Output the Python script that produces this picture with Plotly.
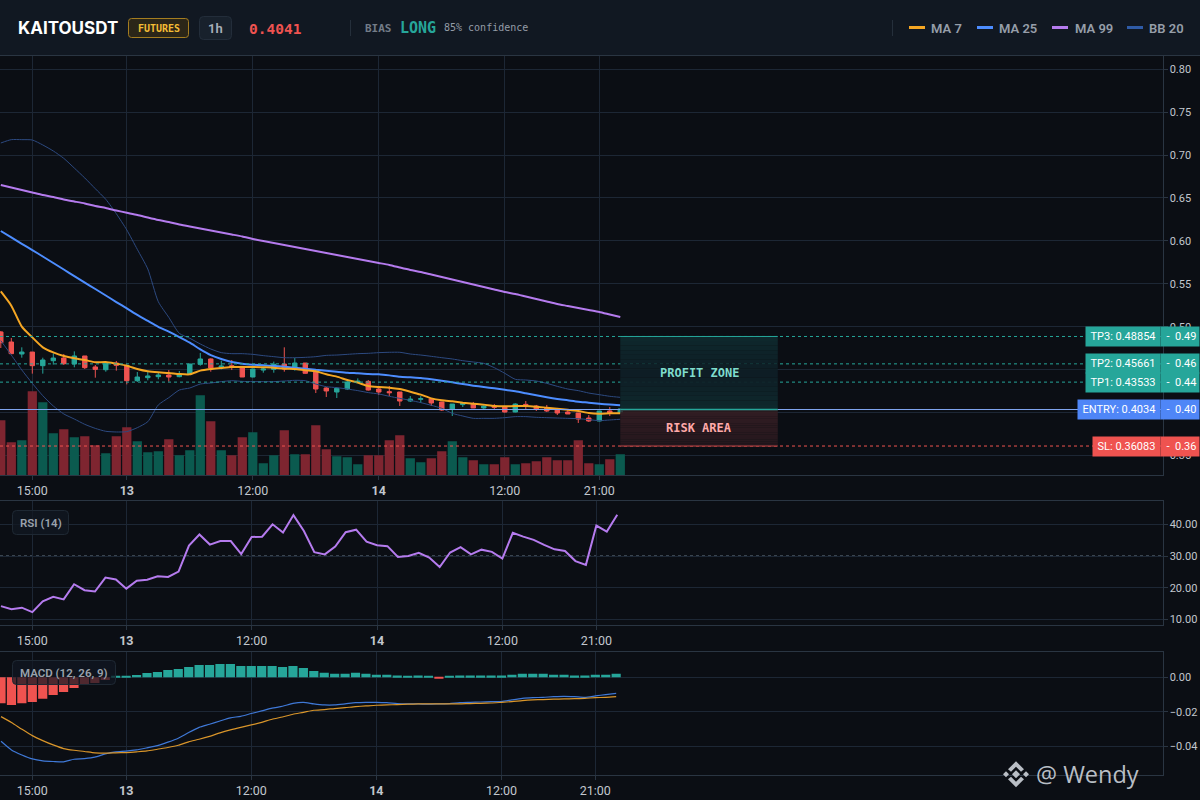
import plotly.graph_objects as go

# ---- data ----
bar_index = list(range(-3, 57))
tick_index = [0, 9, 21, 33, 45, 54]
tick_text = ["15:00", "<b>13</b>", "12:00", "<b>14</b>", "12:00", "21:00"]

opens = [.4938,.4821,.4681,.4704,.4545,.4603,.4634,.4564,.4658,.4530,.4498,.4576,.4545,.4370,.4405,.4417,.4436,.4417,.4448,.4561,
         .4623,.4526,.4545,.4537,.4413,.4494,.4502,.4564,.4502,.4576,.4471,.4285,.4238,.4273,.4347,.4362,.4273,.4242,.4238,.4133,
         .4153,.4156,.4122,.4036,.4091,.4098,.4052,.4075,.4063,.4005,.4094,.4075,.4052,.4040,.4005,.3993,.3935,.3900,.4017,.3993]
highs = [.4949,.4868,.4759,.4704,.4638,.4689,.4681,.4712,.4658,.4553,.4580,.4600,.4561,.4471,.4471,.4463,.4494,.4483,.4568,.4693,
         .4631,.4603,.4611,.4537,.4510,.4530,.4592,.4759,.4634,.4576,.4498,.4296,.4296,.4378,.4397,.4378,.4285,.4308,.4238,.4191,
         .4191,.4156,.4122,.4098,.4122,.4122,.4098,.4098,.4075,.4106,.4133,.4087,.4087,.4052,.4028,.3993,.3970,.4017,.4063,.4048]
lows = [.4751,.4685,.4638,.4452,.4452,.4557,.4553,.4526,.4506,.4405,.4475,.4487,.4327,.4355,.4374,.4386,.4359,.4409,.4448,.4545,
        .4475,.4502,.4494,.4413,.4409,.4463,.4463,.4475,.4487,.4452,.4226,.4180,.4168,.4261,.4343,.4254,.4203,.4191,.4075,.4122,
        .4110,.4075,.4017,.3958,.4063,.4052,.4040,.4028,.3997,.4001,.4036,.4017,.4005,.3970,.3982,.3877,.3888,.3896,.3958,.3993]
closes = [.4813,.4685,.4704,.4545,.4611,.4634,.4568,.4658,.4522,.4502,.4572,.4549,.4370,.4413,.4425,.4436,.4413,.4444,.4564,.4623,
          .4518,.4541,.4530,.4413,.4506,.4506,.4561,.4506,.4576,.4456,.4273,.4250,.4281,.4355,.4366,.4261,.4238,.4230,.4133,.4156,
          .4160,.4110,.4028,.4098,.4110,.4052,.4075,.4059,.4005,.4098,.4079,.4040,.4017,.3993,.3982,.3923,.3900,.4017,.3989,.4041]
volumes = [55,33,35,84,73,42,46,38,39,30,22,39,48,34,23,24,36,20,25,80,54,25,20,38,43,12,20,45,21,21,
           50,26,19,18,11,20,20,35,40,17,13,17,24,34,18,15,11,11,18,11,12,14,18,15,15,35,12,11,16,21]

ma7 = [.5410,.5244,.5000,.4875,.4759,.4700,.4658,.4631,.4611,.4584,.4588,.4568,.4545,.4506,.4479,.4467,.4460,.4448,.4444,.4487,
       .4506,.4518,.4530,.4530,.4530,.4526,.4522,.4510,.4506,.4491,.4479,.4444,.4417,.4378,.4347,.4308,.4296,.4289,.4273,.4242,
       .4207,.4164,.4141,.4129,.4114,.4102,.4091,.4075,.4071,.4075,.4075,.4067,.4055,.4044,.4032,.4017,.3993,.3985,.3989,.3989]
ma25 = [.6115,.6040,.5965,.5893,.5818,.5742,.5666,.5590,.5514,.5439,.5363,.5287,.5213,.5136,.5066,.4998,.4941,.4879,.4813,.4736,
        .4669,.4623,.4588,.4568,.4557,.4549,.4541,.4533,.4522,.4510,.4497,.4487,.4475,.4463,.4456,.4448,.4444,.4432,.4417,.4409,
        .4401,.4386,.4370,.4351,.4331,.4312,.4296,.4281,.4265,.4246,.4223,.4199,.4176,.4156,.4141,.4125,.4114,.4102,.4091,.4083]
ma99 = [.6651,.6622,.6593,.6564,.6535,.6511,.6482,.6459,.6436,.6406,.6383,.6354,.6328,.6302,.6272,.6243,.6220,.6191,.6167,.6144,
        .6121,.6097,.6074,.6051,.6022,.5998,.5975,.5952,.5928,.5905,.5882,.5859,.5835,.5812,.5789,.5765,.5742,.5719,.5689,.5660,
        .5637,.5608,.5579,.5550,.5521,.5491,.5462,.5433,.5404,.5381,.5351,.5322,.5293,.5264,.5241,.5217,.5194,.5171,.5141,.5112]
bb_upper = [.7141,.7180,.7180,.7176,.7118,.7048,.6962,.6849,.6733,.6608,.6484,.6317,.6127,.5901,.5672,.5291,.5108,.4922,.4864,.4798,
            .4739,.4697,.4685,.4685,.4677,.4662,.4650,.4638,.4638,.4642,.4650,.4665,.4669,.4677,.4685,.4689,.4697,.4701,.4701,.4681,
            .4669,.4654,.4638,.4623,.4603,.4588,.4572,.4522,.4456,.4386,.4378,.4366,.4339,.4304,.4273,.4254,.4226,.4207,.4188,.4176]
bb_lower = [.4837,.4669,.4495,.4339,.4195,.4075,.3982,.3923,.3861,.3814,.3780,.3772,.3776,.3822,.3892,.4087,.4172,.4261,.4285,.4331,
            .4343,.4359,.4370,.4362,.4359,.4359,.4359,.4366,.4374,.4370,.4331,.4300,.4289,.4273,.4254,.4231,.4215,.4188,.4164,.4141,
            .4114,.4083,.4048,.3989,.3958,.3931,.3931,.3931,.3939,.3951,.3951,.3943,.3939,.3935,.3931,.3927,.3916,.3904,.3912,.3920]

rsi = [14.2,13.2,13.7,12.3,15.7,17.1,16.3,21.1,19.2,18.8,23.2,22.6,19.7,22.2,22.5,23.6,23.4,25.1,33.3,36.8,
       33.6,34.7,34.7,30.6,36.0,36.1,40.0,37.4,42.9,37.9,31.2,30.5,33.0,37.5,38.3,34.5,33.4,33.1,29.7,30.0,
       31.0,29.5,26.5,31.1,32.8,30.5,32.0,31.3,29.2,37.3,36.1,35.1,33.5,32.1,31.6,28.4,27.2,39.6,37.7,43.0]
macd_hist = [-.0151,-.0160,-.0151,-.0143,-.0125,-.0102,-.0085,-.0062,-.0042,-.0033,-.0015,.0008,.0006,.0014,.0025,.0031,.0042,.0048,.0060,.0071,
             .0071,.0077,.0077,.0066,.0066,.0066,.0066,.0060,.0066,.0054,.0037,.0027,.0021,.0021,.0027,.0021,.0015,.0015,.0010,.0004,
             .0010,.0004,-.0003,.0004,.0010,.0010,.0010,.0010,.0010,.0015,.0021,.0021,.0021,.0015,.0015,.0010,.0010,.0015,.0015,.0021]
macd_line = [-.0371,-.0421,-.0450,-.0473,-.0484,-.0488,-.0490,-.0475,-.0471,-.0463,-.0444,-.0432,-.0428,-.0421,-.0409,-.0396,-.0376,-.0353,-.0320,-.0290,
             -.0272,-.0253,-.0235,-.0226,-.0210,-.0195,-.0179,-.0168,-.0151,-.0145,-.0154,-.0160,-.0160,-.0154,-.0147,-.0145,-.0145,-.0147,-.0152,-.0154,
             -.0154,-.0156,-.0154,-.0152,-.0147,-.0145,-.0143,-.0141,-.0141,-.0131,-.0122,-.0118,-.0116,-.0112,-.0110,-.0112,-.0116,-.0108,-.0100,-.0093]
macd_signal = [-.0228,-.0262,-.0301,-.0338,-.0367,-.0392,-.0413,-.0423,-.0430,-.0438,-.0440,-.0438,-.0436,-.0432,-.0427,-.0417,-.0407,-.0394,-.0374,-.0359,
               -.0342,-.0322,-.0305,-.0290,-.0276,-.0261,-.0243,-.0230,-.0214,-.0203,-.0191,-.0187,-.0181,-.0176,-.0170,-.0166,-.0162,-.0160,-.0158,-.0156,
               -.0154,-.0154,-.0154,-.0154,-.0154,-.0152,-.0151,-.0149,-.0145,-.0141,-.0135,-.0131,-.0129,-.0127,-.0125,-.0124,-.0122,-.0118,-.0116,-.0112]

price_ticks = [0.35, 0.40, 0.45, 0.50, 0.55, 0.60, 0.65, 0.70, 0.75, 0.80]
rsi_ticks = [10, 20, 30, 40]
macd_ticks = [-0.04, -0.02, 0.0]
tp3, tp2, tp1, entry, sl = 0.48854, 0.45661, 0.43533, 0.4034, 0.36083
zone_start, zone_end = 56, 71

for series in (opens, highs, lows, closes, volumes, ma7, ma25, ma99, bb_upper, bb_lower, rsi, macd_hist, macd_line, macd_signal):
    assert len(series) == len(bar_index), len(series)

# ---- styles ----
W, H = 1200, 800
BG, HEAD, GRID, AXIS = "#0b0e14", "#111822", "#1d2735", "#2a3542"
RED, TEAL, BLUE = "#ef5350", "#26a69a", "#4d8dff"
ORANGE, PURPLE, BBC = "#f5a623", "#b57bee", "#2d4a80"
VRED, VGREEN = "#7e2530", "#0b5a4f"
SANS, MONO = "Roboto", "DejaVu Sans Mono"
TICK = "#c2c7ce"


def px(x):
    return x / W


def py(y):
    return 1 - y / H


fig = go.Figure()
fig.add_bar(x=bar_index, y=volumes, yaxis="y", xaxis="x", width=0.88,
            marker=dict(color=[VGREEN if c >= o else VRED for o, c in zip(opens, closes)], line_width=0))
for vals, col, wid in [(bb_upper, BBC, 1), (bb_lower, BBC, 1), (ma99, PURPLE, 2), (ma25, BLUE, 2)]:
    fig.add_scatter(x=bar_index, y=vals, mode="lines", line=dict(color=col, width=wid, shape="spline", smoothing=0.6), yaxis="y2", xaxis="x")
fig.add_candlestick(x=bar_index, open=opens, high=highs, low=lows, close=closes, yaxis="y2", xaxis="x",
                    increasing=dict(line=dict(color=TEAL, width=1), fillcolor=TEAL),
                    decreasing=dict(line=dict(color=RED, width=1), fillcolor=RED),
                    whiskerwidth=0)
fig.add_scatter(x=bar_index, y=ma7, mode="lines", line=dict(color=ORANGE, width=2, shape="spline", smoothing=0.6), yaxis="y2", xaxis="x")

fig.add_scatter(x=bar_index, y=rsi, mode="lines", line=dict(color=PURPLE, width=2), yaxis="y3", xaxis="x2")

fig.add_bar(x=bar_index, y=macd_hist, yaxis="y4", xaxis="x3", width=0.88,
            marker=dict(color=[TEAL if v >= 0 else RED for v in macd_hist], line_width=0))
fig.add_scatter(x=bar_index, y=macd_line, mode="lines", line=dict(color="#3f78d6", width=1.2, shape="spline", smoothing=0.6), yaxis="y4", xaxis="x3")
fig.add_scatter(x=bar_index, y=macd_signal, mode="lines", line=dict(color="#d9952a", width=1.2, shape="spline", smoothing=0.6), yaxis="y4", xaxis="x3")

shapes, notes = [], []


def rect(x0, y0, x1, y1, fill, line=None, lw=1):
    shapes.append(dict(type="rect", xref="paper", yref="paper", x0=px(x0), x1=px(x1), y0=py(y0), y1=py(y1),
                       fillcolor=fill, line=dict(color=line or fill, width=lw if line else 0), layer="above"))


def rrect(x0, y0, x1, y1, r, fill, line):
    X0, X1, Y0, Y1 = px(x0), px(x1), py(y0), py(y1)
    rx, ry = r / W, r / H
    p = (f"M{X0+rx},{Y0} L{X1-rx},{Y0} Q{X1},{Y0} {X1},{Y0-ry} L{X1},{Y1+ry} Q{X1},{Y1} {X1-rx},{Y1} "
         f"L{X0+rx},{Y1} Q{X0},{Y1} {X0},{Y1+ry} L{X0},{Y0-ry} Q{X0},{Y0} {X0+rx},{Y0} Z")
    shapes.append(dict(type="path", xref="paper", yref="paper", path=p, fillcolor=fill,
                       line=dict(color=line, width=1), layer="above"))


def hline(y0, col, x1=W, lw=1):
    shapes.append(dict(type="line", xref="paper", yref="paper", x0=px(0), x1=px(x1), y0=py(y0), y1=py(y0),
                       line=dict(color=col, width=lw), layer="above"))


def note(x, y, text, size, color, family=SANS, weight=400, anchor="left"):
    notes.append(dict(xref="paper", yref="paper", x=px(x), y=py(y), text=text, showarrow=False, xanchor=anchor,
                      yanchor="middle", align=anchor, font=dict(size=size, color=color, family=family, weight=weight)))


# header band
rect(0, 0, W, 55, HEAD)
hline(55.5, AXIS)
note(16, 28, "<b>KAITOUSDT</b>", 17, "#ffffff", "Inter", 800)
rrect(128.5, 18.5, 188.5, 37.5, 3, "#2b2618", "#a47d20")
note(158.5, 28.5, "FUTURES", 10, "#f4bd35", MONO, 700, "center")
rrect(199.5, 16.5, 231.5, 39.5, 4, "#18212c", "#232d3a")
note(215.5, 28.5, "1h", 13, "#a9b0ba", SANS, 600, "center")
note(247, 28.5, "0.4041", 14.5, RED, MONO, 700)
shapes.append(dict(type="line", xref="paper", yref="paper", x0=px(350.5), x1=px(350.5), y0=py(20), y1=py(36),
                   line=dict(color="#252f3b", width=1), layer="above"))
note(363, 28.5, "BIAS", 11, "#737c88", MONO, 700)
note(398, 28, "<b>LONG</b>", 15, TEAL, MONO, 700)
note(442, 27.5, "85% confidence", 10, "#949ca7", MONO)
shapes.append(dict(type="line", xref="paper", yref="paper", x0=px(892.5), x1=px(892.5), y0=py(20), y1=py(36),
                   line=dict(color="#252f3b", width=1), layer="above"))
for name, col, sx, tx in [("MA 7", ORANGE, 909, 929), ("MA 25", BLUE, 977, 997),
                          ("MA 99", PURPLE, 1052, 1073), ("BB 20", "#2f5ba6", 1127, 1147)]:
    shapes.append(dict(type="line", xref="paper", yref="paper", x0=px(sx), x1=px(sx + 16), y0=py(27.5), y1=py(27.5),
                       line=dict(color=col, width=3), layer="above"))
    note(tx, 28.5, name, 13, "#969ea9", SANS, 600)

# horizontal levels
for lvl in (tp3, tp2, tp1):
    shapes.append(dict(type="line", xref="paper", yref="y2", x0=0, x1=px(1162), y0=lvl, y1=lvl,
                       line=dict(color=TEAL, width=1, dash="dot"), layer="above"))
shapes.append(dict(type="line", xref="paper", yref="y2", x0=0, x1=px(1162), y0=sl, y1=sl,
                   line=dict(color=RED, width=1, dash="dot"), layer="above"))
shapes.append(dict(type="line", xref="paper", yref="y2", x0=0, x1=px(1162), y0=entry, y1=entry,
                   line=dict(color="#7fa4ee", width=1), layer="above"))
shapes.append(dict(type="line", xref="paper", yref="y3", x0=0, x1=px(1162), y0=30, y1=30,
                   line=dict(color="#6b7a88", width=1, dash="dot"), layer="below"))
# zones: vertical fade drawn as stacked bands
n_bands = 16
for k in range(n_bands):
    f0, f1 = k / n_bands, (k + 1) / n_bands
    t = abs((f0 + f1) / 2 - 0.5) * 2
    col = f"rgba({int(15 + t)},{int(31 + 12 * t)},{int(38 + 8 * t)},0.95)"
    shapes.append(dict(type="rect", xref="x", yref="y2", x0=zone_start, x1=zone_end,
                       y0=entry + (tp3 - entry) * f0, y1=entry + (tp3 - entry) * f1,
                       fillcolor=col, line_width=0, layer="above"))
    col = f"rgba({int(52 - 14 * f0)},{int(30 - 6 * f0)},{int(36 - 6 * f0)},0.95)"
    shapes.append(dict(type="rect", xref="x", yref="y2", x0=zone_start, x1=zone_end,
                       y0=entry - (entry - sl) * f0, y1=entry - (entry - sl) * f1,
                       fillcolor=col, line_width=0, layer="above"))
for lvl, col, wid in [(tp3, TEAL, 1), (entry, TEAL, 1.5), (sl, "#c24848", 1)]:
    shapes.append(dict(type="line", xref="x", yref="y2", x0=zone_start, x1=zone_end, y0=lvl, y1=lvl,
                       line=dict(color=col, width=wid), layer="above"))
notes.append(dict(xref="x", yref="y2", x=(zone_start + zone_end) / 2, y=(tp3 + entry) / 2 + 0.0001, text="<b>PROFIT ZONE</b>", showarrow=False,
                  font=dict(size=12, color="#7fdccc", family=MONO)))
notes.append(dict(xref="x", yref="y2", x=(zone_start + zone_end) / 2, y=(sl + entry) / 2, text="<b>RISK AREA</b>", showarrow=False,
                  font=dict(size=12, color="#ffa9a9", family=MONO)))

# price chips
for label, chip, lvl, col, left in [("TP3: 0.48854", "0.49", tp3, TEAL, 1087), ("TP2: 0.45661", "0.46", tp2, TEAL, 1087),
                                    ("TP1: 0.43533", "0.44", tp1, TEAL, 1087), ("ENTRY: 0.4034", "0.40", entry, "#4f86f7", 1079),
                                    ("SL: 0.36083", "0.36", sl, RED, 1094)]:
    notes.append(dict(xref="paper", yref="y2", x=px(1161), y=lvl, text=label, showarrow=False, xanchor="right", yanchor="middle",
                      width=1161 - left, height=19, bgcolor=col, borderpad=0, align="center",
                      font=dict(size=11, color="#ffffff", family=SANS)))
    notes.append(dict(xref="paper", yref="y2", x=px(1200), y=lvl, text="  -  " + chip, showarrow=False, xanchor="right", yanchor="middle",
                      width=38, height=19, bgcolor=col, borderpad=0, align="left",
                      font=dict(size=11, color="#ffffff", family=SANS)))

# pane pills
rrect(12.5, 510.5, 68.5, 534.5, 4, "rgba(17,24,34,0.75)", "#1e2833")
note(40.5, 523, "RSI (14)", 11.5, "#9aa2ac", SANS, 600, "center")
rrect(12.5, 660.5, 115.5, 684.5, 4, "rgba(17,24,34,0.72)", "#1e2833")
note(64, 673, "MACD (12, 26, 9)", 11.5, "#9aa2ac", SANS, 600, "center")

# watermark
cx, cy = 1016, 774.3
WM = "#b9bec5"


def poly(points):
    p = "M" + " L".join(f"{px(cx + a)},{py(cy + b)}" for a, b in points) + " Z"
    shapes.append(dict(type="path", xref="paper", yref="paper", path=p, fillcolor=WM, line_width=0, layer="above"))


poly([(0, -4), (4, 0), (0, 4), (-4, 0)])
poly([(-13, 0), (-10, -3), (-7, 0), (-10, 3)])
poly([(13, 0), (10, -3), (7, 0), (10, 3)])
poly([(0, -13), (8, -5), (5, -2.5), (0, -7.5), (-5, -2.5), (-8, -5)])
poly([(0, 13), (8, 5), (5, 2.5), (0, 7.5), (-5, 2.5), (-8, 5)])
note(1034, 774, "@ Wendy", 23.5, WM, "Open Sans")

common_x = dict(tickmode="array", tickvals=tick_index, ticktext=tick_text, showgrid=True, gridcolor=GRID, gridwidth=1,
                zeroline=False, showline=True, linecolor=AXIS, linewidth=1, mirror=True, ticks="outside", ticklen=4,
                tickcolor=AXIS, tickfont=dict(size=12.5, color=TICK, family=SANS), domain=[0, 1162.5 / W], rangeslider=dict(visible=False))
common_y = dict(side="right", showgrid=True, gridcolor=GRID, gridwidth=1, zeroline=False, showline=True, linecolor=AXIS,
                linewidth=1, ticks="outside", ticklen=4, tickcolor=AXIS, tickfont=dict(size=11, color=TICK, family=SANS),
                tickmode="array", tickformat=".2f")
fig.update_layout(
    width=W, height=H, margin=dict(l=0, r=0, t=0, b=0, pad=0), autosize=False, showlegend=False, hovermode=False,
    paper_bgcolor=BG, plot_bgcolor=BG, bargap=0.12, boxgap=0.4, dragmode=False,
    xaxis=dict(common_x, range=[-3.076, 107.64], anchor="y"),
    xaxis2=dict(common_x, range=[-3.093, 108.2], anchor="y3"),
    xaxis3=dict(common_x, range=[-3.098, 108.4], anchor="y4"),
    yaxis=dict(domain=[py(475.3), py(55.5)], range=[0, 419.8], visible=False, anchor="x", showgrid=False),
    yaxis2=dict(common_y, overlaying="y", anchor="x", tickvals=price_ticks, range=[0.3267, 0.8161]),
    yaxis3=dict(common_y, domain=[py(625.3), py(501)], anchor="x2", tickvals=rsi_ticks, range=[8.14, 47.35]),
    yaxis4=dict(common_y, domain=[py(775.3), py(651.7)], anchor="x3", tickvals=macd_ticks, range=[-0.0568, 0.01484]),
    shapes=shapes, annotations=notes,
)

fig.write_html("out.html", config={"displayModeBar": False},
               post_script="document.body.style.margin='0';document.documentElement.style.overflow='hidden';")
